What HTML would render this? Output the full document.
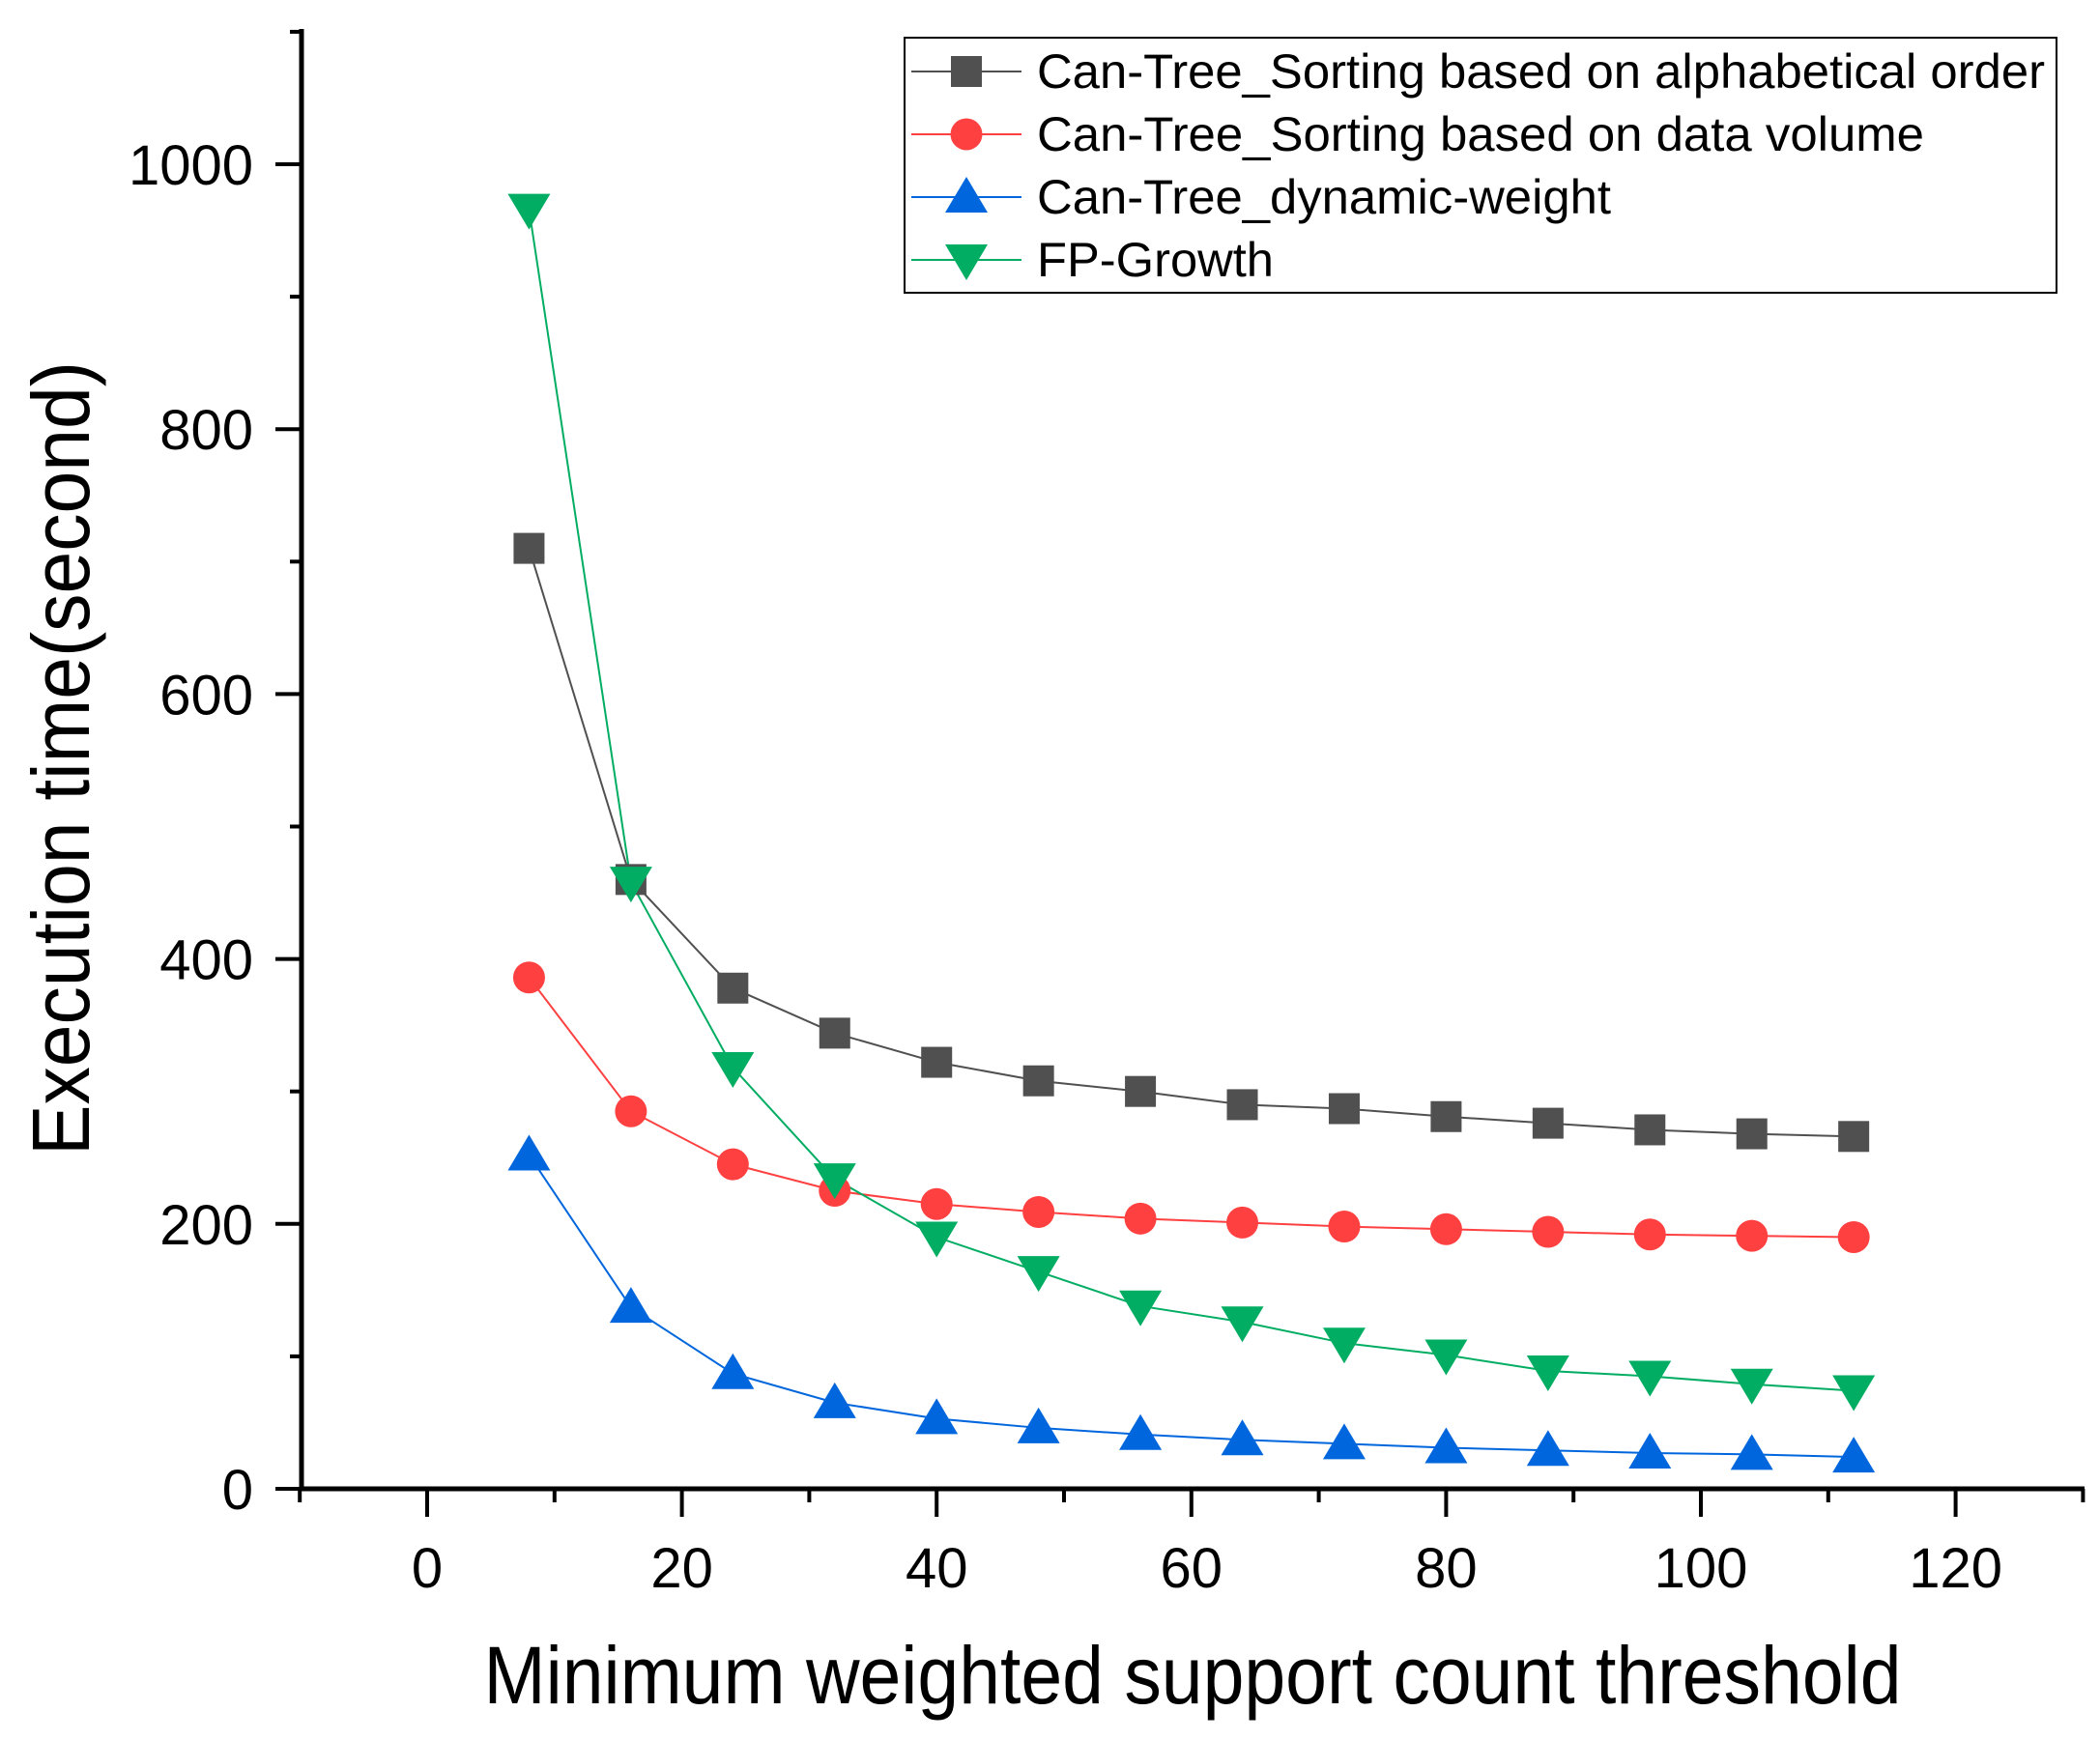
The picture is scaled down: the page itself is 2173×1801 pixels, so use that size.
<!DOCTYPE html>
<html><head><meta charset="utf-8"><style>html,body{margin:0;padding:0;background:#fff}svg{display:block}</style></head>
<body>
<svg width="2173" height="1801" viewBox="0 0 2173 1801" xmlns="http://www.w3.org/2000/svg" font-family="Liberation Sans, Arial, sans-serif">
<defs>
<g id="sq"><rect x="-16" y="-16" width="32" height="32" fill="#505050"/></g>
<g id="ci"><circle r="16.5" fill="#ff4040"/></g>
<g id="up"><polygon points="0,-21 22,16 -22,16" fill="#0066dd"/></g>
<g id="dn"><polygon points="0,21 22,-16 -22,-16" fill="#00ad62"/></g>
</defs>
<g id="plot"></g>
<g stroke="#000" stroke-width="5" fill="none">
<line x1="312" y1="30" x2="312" y2="1543"/>
<line x1="310" y1="1541" x2="2157" y2="1541"/>
</g>
<g stroke="#000" stroke-width="4" id="ticks"></g>
<g font-size="58" fill="#000" text-anchor="end" id="ylab"></g>
<g font-size="58" fill="#000" text-anchor="middle" id="xlab"></g>
<text x="1234" y="1763" font-size="84" text-anchor="middle" textLength="1467" lengthAdjust="spacingAndGlyphs">Minimum weighted support count threshold</text>
<text transform="translate(92,785) rotate(-90)" font-size="84" text-anchor="middle" textLength="822" lengthAdjust="spacingAndGlyphs">Execution time(second)</text>
<rect x="936" y="39" width="1192" height="264" fill="#fff" stroke="#000" stroke-width="2"/>
<g font-size="50" fill="#000">
<line x1="943" y1="74" x2="1057" y2="74" stroke="#505050" stroke-width="2"/><use href="#sq" x="1000" y="74"/>
<text x="1073" y="91" textLength="1043" lengthAdjust="spacingAndGlyphs">Can-Tree_Sorting based on alphabetical order</text>
<line x1="943" y1="139" x2="1057" y2="139" stroke="#ff4040" stroke-width="2"/><use href="#ci" x="1000" y="139"/>
<text x="1073" y="156" textLength="918" lengthAdjust="spacingAndGlyphs">Can-Tree_Sorting based on data volume</text>
<line x1="943" y1="204" x2="1057" y2="204" stroke="#0066dd" stroke-width="2"/><use href="#up" x="1000" y="204"/>
<text x="1073" y="221" textLength="594" lengthAdjust="spacingAndGlyphs">Can-Tree_dynamic-weight</text>
<line x1="943" y1="269" x2="1057" y2="269" stroke="#00ad62" stroke-width="2"/><use href="#dn" x="1000" y="269"/>
<text x="1073" y="286" textLength="245" lengthAdjust="spacingAndGlyphs">FP-Growth</text>
</g>
<script>
var NS="http://www.w3.org/2000/svg";
function X(v){return 442+v*13.18;}function Y(v){return 1541-v*1.371;}
function el(t,a,p){var e=document.createElementNS(NS,t);for(var k in a)e.setAttribute(k,a[k]);p.appendChild(e);return e;}
var tk=document.getElementById('ticks');
for(var v=0;v<=1100;v+=100){var maj=v%200==0;el('line',{x1:312-(maj?27:12),y1:Y(v),x2:312,y2:Y(v)},tk);
 if(maj){var t=el('text',{x:262,y:Y(v)+21},document.getElementById('ylab'));t.textContent=v;}}
for(var v=-10;v<=130;v+=10){var maj=v%20==0;el('line',{x1:X(v),y1:1541,x2:X(v),y2:1541+(maj?29:14)},tk);
 if(maj&&v>=0&&v<=120){var t=el('text',{x:X(v),y:1643},document.getElementById('xlab'));t.textContent=v;}}
var xs=[8,16,24,32,40,48,56,64,72,80,88,96,104,112];
var S=[
{c:'#505050',m:'#sq',d:[710,460,378,344,322,308,300,290,287,281,276,271,268,266]},
{c:'#ff4040',m:'#ci',d:[386,285,245,225,215,209,204,201,198,196,194,192,191,190]},
{c:'#0066dd',m:'#up',d:[252,137,87,65,53,46,41,37,34,31,29,27,26,24]},
{c:'#00ad62',m:'#dn',d:[966,458,318,234,190,164,138,126,110,101,89,85,79,74]}];
var pl=document.getElementById('plot');
S.forEach(function(s){var p=s.d.map(function(v,i){return X(xs[i])+','+Y(v)}).join(' ');
el('polyline',{points:p,fill:'none',stroke:s.c,'stroke-width':2},pl);});
S.forEach(function(s){s.d.forEach(function(v,i){el('use',{href:s.m,x:X(xs[i]),y:Y(v)},pl);});});
</script>
</svg>
</body></html>
